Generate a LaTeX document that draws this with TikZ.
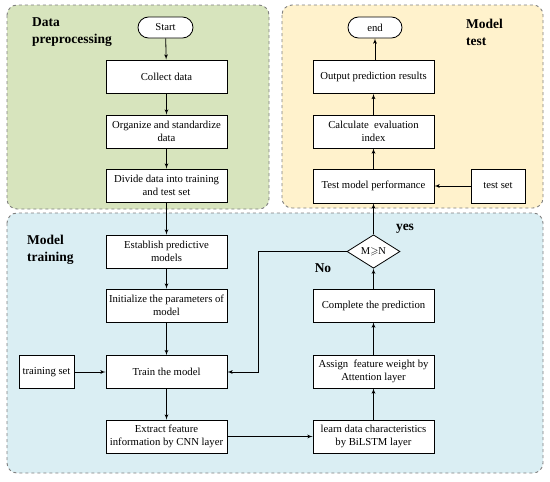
\documentclass[tikz,border=0pt]{standalone}
\usepackage{amssymb}
\usepackage{fontspec}
\setmainfont{Liberation Serif}
\usepackage{tikz}
\usetikzlibrary{arrows}
\usetikzlibrary{shapes.geometric}
\definecolor{prepfill}{HTML}{D7E4BD}
\definecolor{testfill}{HTML}{FFF2CC}
\definecolor{trainfill}{HTML}{DAEEF3}
\definecolor{panelline}{HTML}{7F7F7F}
\tikzset{>=latex'}
\tikzset{procbox/.style = {draw, fill=white, line width=0.8pt, align=center, inner sep=1pt,
                           minimum width=121pt, minimum height=33pt,
                           font=\fontsize{10.7}{12.6}\selectfont}}
\tikzset{termnode/.style = {procbox, rounded corners=10.5pt, minimum width=55pt, minimum height=21pt}}
\tikzset{smallbox/.style = {procbox, minimum width=55pt, minimum height=33pt}}
\tikzset{decide/.style = {draw, fill=white, diamond, line width=0.8pt, inner sep=0pt,
                          minimum width=53pt, minimum height=33pt,
                          font=\fontsize{10.5}{12}\selectfont}}
\tikzset{panel/.style = {draw=panelline, dashed, line width=0.9pt, rounded corners=10pt}}
\tikzset{title/.style = {align=left, anchor=west, inner sep=0pt,
                         font=\fontsize{13.5}{17}\selectfont\bfseries}}
\tikzset{flow/.style = {->, line width=0.8pt}}

\begin{document}
\begin{tikzpicture}[x=1pt, y=-1pt]
    \useasboundingbox (0, 0) rectangle (550, 482);

    \draw [panel, fill=prepfill] (7, 5) rectangle (269, 209);
    \draw [panel, fill=testfill] (282, 5) rectangle (543, 208);
    \draw [panel, fill=trainfill] (7, 213) rectangle (543, 473);

    \node [title] (ttlprep) at (32, 32) {Data\\preprocessing};
    \node [title] (ttltest) at (466, 32) {Model\\test};
    \node [title] (ttltrain) at (27, 250) {Model\\training};

    \node [termnode] (start) at (165.5, 27.5) {Start};
    \node [procbox] (collect) at (166.5, 76.5) {Collect data};
    \node [procbox] (organize) at (166.5, 131.5) {Organize and standardize\\data};
    \node [procbox] (divide) at (166.5, 185.5) {Divide data into training\\and test set};

    \node [procbox] (establish) at (166.5, 251.5) {Establish predictive\\models};
    \node [procbox] (init) at (166.5, 305.5) {Initialize the parameters of\\model};
    \node [procbox] (train) at (166.5, 372) {Train the model};
    \node [smallbox] (trainset) at (46.5, 372) {training set};
    \node [procbox] (extract) at (166.5, 436.5) {Extract feature\\information by CNN layer};

    \node [procbox] (bilstm) at (373.5, 436.5) {learn data characteristics\\by BiLSTM layer};
    \node [procbox] (assign) at (373.5, 371.5) {Assign\ \ feature weight by\\Attention layer};
    \node [procbox] (complete) at (373.5, 305.5) {Complete the prediction};
    \node [decide] (check) at (373.5, 251.5) {M$\geqslant$N};

    \node [procbox, minimum height=34pt] (testperf) at (373.5, 186) {Test model performance};
    \node [smallbox, minimum width=54pt, minimum height=34pt] (testset) at (498, 186) {test set};
    \node [procbox] (calc) at (373.5, 131.5) {Calculate\ \ evaluation\\index};
    \node [procbox] (output) at (373.5, 77) {Output prediction results};
    \node [termnode, minimum width=54pt] (end) at (375, 27.5) {end};

    \node [title, anchor=center] (yes) at (405, 229) {yes};
    \node [title, anchor=center] (no) at (323, 268) {No};

    \draw [flow] (start) -- (collect);
    \draw [flow] (collect) -- (organize);
    \draw [flow] (organize) -- (divide);
    \draw [flow] (divide) -- (establish);
    \draw [flow] (establish) -- (init);
    \draw [flow] (init) -- (train);
    \draw [flow] (trainset) -- (train);
    \draw [flow] (train) -- (extract);
    \draw [flow] (extract) -- (bilstm);
    \draw [flow] (bilstm) -- (assign);
    \draw [flow] (assign) -- (complete);
    \draw [flow] (complete) -- (check);
    \draw [flow] (check) -- (testperf);
    \draw [flow] (check.west) -- (258, 251.5) |- (train.east);
    \draw [flow] (testset) -- (testperf);
    \draw [flow] (testperf) -- (calc);
    \draw [flow] (calc) -- (output);
    \draw [flow] (output.north -| end) -- (end);
  \end{tikzpicture}
\end{document}
